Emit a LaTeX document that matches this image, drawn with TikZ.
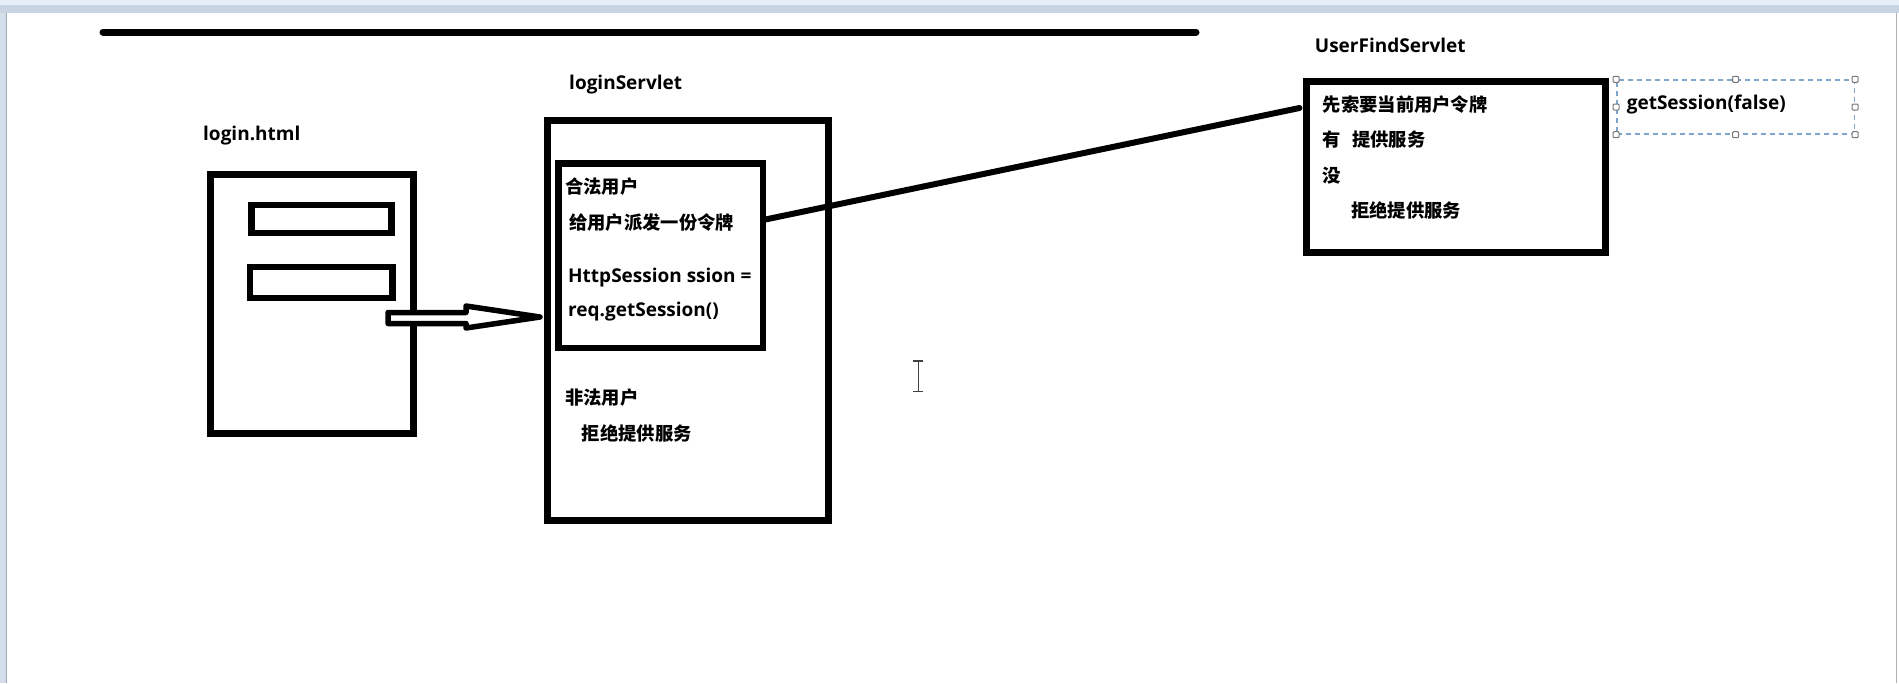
\documentclass[tikz,border=0pt]{standalone}
\usepackage{fontspec}
\setmainfont{Open Sans}
\newfontfamily\cjk{Noto Sans CJK SC}
\usetikzlibrary{calc}
\definecolor{frameA}{RGB}{230,238,248}
\definecolor{frameB}{RGB}{200,212,226}
\definecolor{frameL}{RGB}{212,222,235}
\definecolor{selblue}{RGB}{125,165,205}
\definecolor{hgray}{RGB}{120,120,120}
\tikzset{
  box/.style={draw=black, line width=7pt, rectangle, inner sep=0pt, outer sep=0pt},
  field/.style={draw=black, line width=6.5pt, rectangle, inner sep=0pt, outer sep=0pt},
  conn/.style={draw=black, line width=6pt, line cap=round},
  lat/.style={font=\fontsize{19}{19}\selectfont\bfseries, inner sep=0pt, anchor=base west},
  zh/.style={font=\cjk\fontsize{18.3}{18.3}\selectfont\bfseries, inner sep=0pt, anchor=west},
  handle/.style={draw=hgray, fill=white, line width=1pt, minimum size=6pt, inner sep=0pt, rectangle, rounded corners=1pt}
}
\begin{document}
\begin{tikzpicture}[x=1pt,y=-1pt]
\useasboundingbox (0,0) rectangle (1899,683);
% window frame
\fill[white] (0,0) rectangle (1899,683);
\fill[frameA] (0,0) rectangle (1899,5);
\fill[frameB] (0,5) rectangle (1899,13);
\fill[frameL] (0,13) rectangle (6,683);
\draw[frameB!80!black, line width=0.8pt] (6.5,13) -- (6.5,683);
\draw[gray!60, line width=1.2pt] (1896.5,13) -- (1896.5,683);
% top rule
\coordinate (ruleA) at (103,32);
\coordinate (ruleB) at (1196,32);
\draw[conn, line width=7pt] (ruleA) -- (ruleB);
% login.html
\node[lat] (lhlabel) at (203,140) {login.html};
\node[box, minimum width=203pt, minimum height=259pt] (login) at (311.5,303.5) {};
\node[field, minimum width=140pt, minimum height=28pt] (f1) at (321.7,219) {};
\node[field, minimum width=142.7pt, minimum height=31pt] (f2) at (321.3,282.5) {};
% loginServlet
\node[lat] (lslabel) at (569,89) {loginServlet};
\node[box, minimum width=281pt, minimum height=400pt] (ls) at (687.5,320) {};
\node[box, line width=6.7pt, minimum width=204.5pt, minimum height=184.5pt] (inner) at (660.75,255.75) {};
\node[zh] (t1) at (565,186.7) {合法用户};
\node[zh] (t2) at (569,223) {给用户派发一份令牌};
\node[lat] (t3) at (568,282) {HttpSession ssion =};
\node[lat] (t4) at (568,316) {req.getSession()};
\node[zh] (t5) at (565,398) {非法用户};
\node[zh] (t6) at (581.7,433) {拒绝提供服务};
% hollow arrow login -> loginServlet
\filldraw[fill=white, draw=black, line width=5.5pt, line join=round]
  (388,312.5) -- (466,312.5) -- (466,306) -- (540,317) -- (466,328) -- (466,323.5) -- (388,323.5) -- cycle;
% UserFindServlet
\node[lat] (ufslabel) at (1314.7,52) {UserFindServlet};
\node[box, minimum width=299pt, minimum height=171.5pt] (ufs) at (1456,166.75) {};
\node[zh] (u1) at (1322.6,105) {先索要当前用户令牌};
\node[zh] (u2) at (1322.6,140) {有};
\node[zh] (u3) at (1352,140) {提供服务};
\node[zh] (u4) at (1322.6,176) {没};
\node[zh] (u5) at (1351,210.7) {拒绝提供服务};
% connector
\draw[conn] ([yshift=35.75pt]inner.east) -- ([xshift=-7pt,yshift=58.75pt]ufs.west);
% selected text box
\node[draw=selblue, line width=1.4pt, dash pattern=on 5pt off 4pt, rectangle, inner sep=0pt,
      minimum width=237.6pt, minimum height=54pt] (sel) at (1735.6,107) {};
\node[lat] (gs) at (1626.6,109) {getSession(false)};
\foreach \a in {north west,north,north east,east,south east,south,south west,west}
  \node[handle] at (sel.\a) {};
% text cursor
\coordinate (curT) at (918.3,361);
\coordinate (curB) at (918.3,391.5);
\draw[black!75, line width=1.6pt] (curT) -- (curB);
\draw[black!75, line width=1.6pt] ($(curT)+(-5,0)$) -- ($(curT)+(5,0)$);
\draw[black!75, line width=1.6pt] ($(curB)+(-5,0)$) -- ($(curB)+(5,0)$);
\end{tikzpicture}
\end{document}
